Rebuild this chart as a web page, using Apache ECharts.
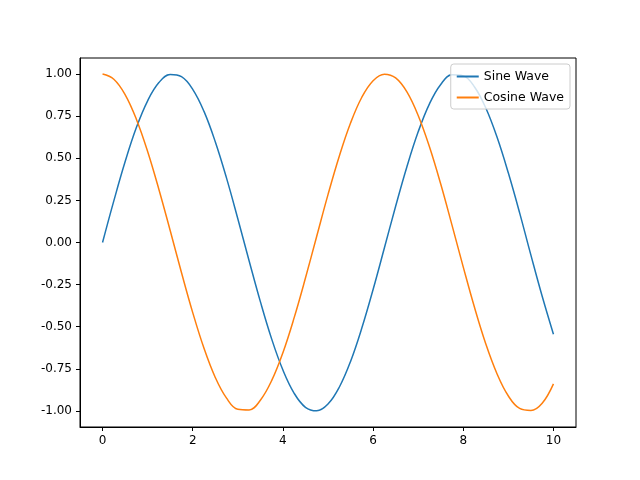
<!DOCTYPE html>
<html>
<head>
<meta charset="utf-8">
<script src="https://cdn.jsdelivr.net/npm/echarts@6/dist/echarts.min.js"></script>
<style>html,body{margin:0;padding:0;background:#fff}#chart{width:640px;height:480px}</style>
</head>
<body>
<div id="chart"></div>
<script>
const xs = [0,0.25,0.5,0.75,1,1.25,1.5,1.75,2,2.25,2.5,2.75,3,3.25,3.5,3.75,4,4.25,4.5,4.75,5,
    5.25,5.5,5.75,6,6.25,6.5,6.75,7,7.25,7.5,7.75,8,8.25,8.5,8.75,9,9.25,9.5,9.75,10];
const sineValues = [0,0.247,0.479,0.682,0.841,0.949,0.997,0.984,0.909,0.778,0.598,0.382,0.141,-0.108,
    -0.351,-0.572,-0.757,-0.895,-0.978,-0.999,-0.959,-0.859,-0.706,-0.508,-0.279,-0.033,0.215,0.450,
    0.657,0.823,0.938,0.995,0.989,0.923,0.798,0.624,0.412,0.176,-0.075,-0.319,-0.544];
const cosineValues = [1,0.969,0.878,0.732,0.540,0.315,0.071,-0.178,-0.416,-0.628,-0.801,-0.924,-0.990,
    -0.994,-0.936,-0.820,-0.654,-0.446,-0.211,0.037,0.284,0.512,0.709,0.862,0.960,0.999,0.977,0.894,
    0.754,0.568,0.347,0.103,-0.146,-0.386,-0.602,-0.780,-0.911,-0.985,-0.997,-0.954,-0.839];
const xTicks = [0, 2, 4, 6, 8, 10];
const yTicks = [-1, -0.75, -0.5, -0.25, 0, 0.25, 0.5, 0.75, 1];

const chart = echarts.init(document.getElementById('chart'));
const pair = (ys) => xs.map((x, i) => [x, ys[i]]);
const axisCommon = {
    axisLine: {show: true, onZero: false, lineStyle: {color: '#000'}},
    axisTick: {show: true, length: 4, lineStyle: {color: '#000'}},
    splitLine: {show: false},
    axisLabel: {color: '#000', fontSize: 12, fontFamily: 'DejaVu Sans'}
};
chart.setOption({
    animation: false,
    textStyle: {fontFamily: 'DejaVu Sans'},
    grid: {left: 80, right: 64, top: 58, bottom: 53, show: true, borderColor: '#000', borderWidth: 1},
    legend: {
        right: 70, top: 64, orient: 'vertical', itemGap: 8, itemWidth: 22, itemHeight: 2,
        borderColor: '#ccc', borderWidth: 1, borderRadius: 3, padding: [6, 6, 5, 6],
        backgroundColor: 'rgba(255,255,255,0.8)',
        textStyle: {fontSize: 12.5, color: '#000', fontFamily: 'DejaVu Sans'},
        data: [{name: 'Sine Wave', icon: 'rect'}, {name: 'Cosine Wave', icon: 'rect'}]
    },
    xAxis: Object.assign({}, axisCommon, {
        type: 'value', min: -0.5, max: 10.5,
        axisTick: Object.assign({}, axisCommon.axisTick, {customValues: xTicks}),
        axisLabel: Object.assign({}, axisCommon.axisLabel, {customValues: xTicks, margin: 8})
    }),
    yAxis: Object.assign({}, axisCommon, {
        type: 'value', min: -1.095, max: 1.095,
        axisTick: Object.assign({}, axisCommon.axisTick, {customValues: yTicks}),
        axisLabel: Object.assign({}, axisCommon.axisLabel, {
            customValues: yTicks, margin: 8, formatter: v => v.toFixed(2)
        })
    }),
    series: [
        {name: 'Sine Wave', type: 'line', data: pair(sineValues), smooth: 0.4, showSymbol: false,
            color: '#1f77b4', lineStyle: {width: 1.5}},
        {name: 'Cosine Wave', type: 'line', data: pair(cosineValues), smooth: 0.4, showSymbol: false,
            color: '#ff7f0e', lineStyle: {width: 1.5}}
    ]
});
</script>
</body>
</html>
